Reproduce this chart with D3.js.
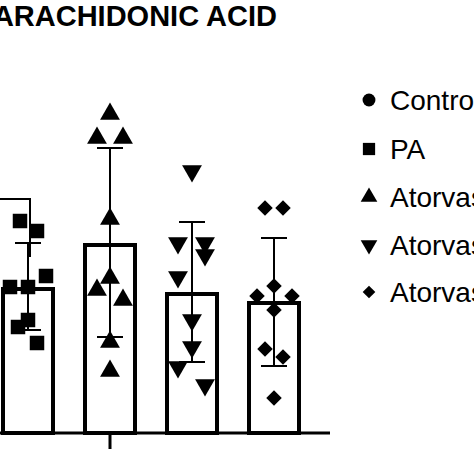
<!DOCTYPE html><html><head><meta charset="utf-8"><script src="https://cdn.jsdelivr.net/npm/d3@7"></script>
<style>body{margin:0;background:#fff;overflow:hidden}</style></head><body><svg id="c" width="474" height="474"></svg>
<script>
const categories=["Control","PA","Atorvastatin A","Atorvastatin B","Atorvastatin C"];
const legendLabels=["Control","PA","Atorvastatin","Atorvastatin","Atorvastatin"];
const symbolsNames=["circle","square","triangle","triangleDown","diamond"];
const means=[150,144,188,139,130];
const errHi=[200,190,285,211,195];
const errLo=[100,103,96,71,67];
const points=[[],
 [[-8,212],[9,202],[18,157],[-18,146],[0,146],[0,113],[-10,106],[9,90]],
 [[0,319],[-13,295],[13,295],[0,214],[0,155],[-13,143],[13,133],[0,91],[0,62]],
 [[0,262],[-14,190],[13,190],[13,178],[-14,156],[0,113],[0,86],[-14,66],[13,48]],
 [[-9,225],[9,225],[0,147],[-17,137],[18,137],[0,123],[-9,84],[9,76],[0,35]]];
const svg=d3.select("#c");
const x=d3.scalePoint().domain(categories).range([-54,274]);
const y=d3.scaleLinear().domain([0,340]).range([433,93]);
const bw=50;
const g=svg.append("g");
categories.forEach((c,i)=>{
 const cx=x(c);
 g.append("rect").attr("x",cx-bw/2).attr("y",y(means[i])).attr("width",bw).attr("height",y(0)-y(means[i])).attr("fill","#fff").attr("stroke","#000").attr("stroke-width",4);
 points[i].forEach(p=>{
  const tr=`translate(${cx+p[0]},${y(p[1])})`;
  if(symbolsNames[i]==="triangleDown") g.append("path").attr("d",d3.symbol().type(d3.symbolTriangle).size(170)()).attr("transform",tr+" rotate(180)");
  else if(symbolsNames[i]==="diamond") g.append("path").attr("d",d3.symbol().type(d3.symbolSquare).size(120)()).attr("transform",tr+" rotate(45)");
  else if(symbolsNames[i]==="square") g.append("path").attr("d",d3.symbol().type(d3.symbolSquare).size(210)()).attr("transform",tr);
  else g.append("path").attr("d",d3.symbol().type(d3.symbolTriangle).size(170)()).attr("transform",tr);
 });
 g.append("line").attr("x1",cx).attr("x2",cx).attr("y1",y(errLo[i])).attr("y2",y(errHi[i])).attr("stroke","#000").attr("stroke-width",2);
 [errLo[i],errHi[i]].forEach(v=>g.append("line").attr("x1",cx-13).attr("x2",cx+13).attr("y1",y(v)).attr("y2",y(v)).attr("stroke","#000").attr("stroke-width",2));
});
g.append("path").attr("d",`M0,${y(234)}H${x("PA")+2}V${y(176)}`).attr("fill","none").attr("stroke","#000").attr("stroke-width",2);
svg.append("line").attr("x1",0).attr("x2",330).attr("y1",y(0)).attr("y2",y(0)).attr("stroke","#000").attr("stroke-width",3);
svg.append("line").attr("x1",x("Atorvastatin A")).attr("x2",x("Atorvastatin A")).attr("y1",y(0)).attr("y2",y(0)+16).attr("stroke","#000").attr("stroke-width",3);
svg.append("text").attr("x",277).attr("y",26).attr("text-anchor","end").attr("font-family","Liberation Sans, Arial").attr("font-weight","bold").attr("font-size",29).text("ARACHIDONIC ACID");
const ly=[100,149,197,245,292];
legendLabels.forEach((l,i)=>{
 const t=`translate(369,${ly[i]})`;
 let s;
 if(i===0)s=d3.symbol().type(d3.symbolCircle).size(130)();
 else if(i===1)s=d3.symbol().type(d3.symbolSquare).size(150)();
 else if(i===4)s=d3.symbol().type(d3.symbolSquare).size(80)();
 else s=d3.symbol().type(d3.symbolTriangle).size(120)();
 svg.append("path").attr("d",s).attr("transform",t+(i===3?" rotate(180)":i===4?" rotate(45)":""));
 svg.append("text").attr("x",390).attr("y",ly[i]+10).attr("font-family","Liberation Sans, Arial").attr("font-size",28).text(l);
});
</script></body></html>
